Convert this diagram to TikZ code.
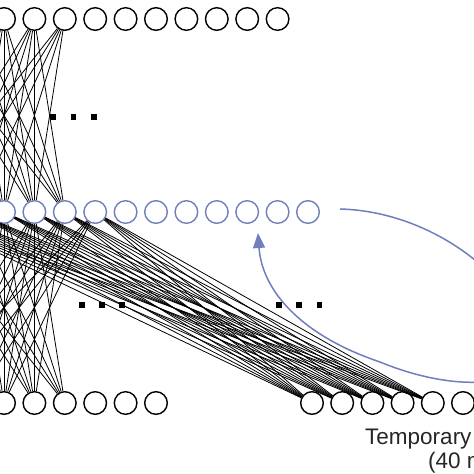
\documentclass[tikz,border=0pt]{standalone}
\usepackage{fontspec}
\setmainfont{Liberation Sans}
\usepackage{xcolor}
\usetikzlibrary{arrows.meta,positioning}
\definecolor{netblue}{RGB}{112,126,190}

\begin{document}
\begin{tikzpicture}[
    x=1pt, y=-1pt,
    unit/.style={circle, draw, line width=1.4pt, minimum size=22.6pt, inner sep=0pt},
    ctxunit/.style={unit, draw=netblue},
    link/.style={line width=0.8pt},
    dot/.style={rectangle, fill=black, minimum size=5.5pt, inner sep=0pt},
    loop/.style={-{Triangle[length=15pt,width=12pt]}, draw=netblue, line width=1.5pt},
    caption/.style={anchor=base west, inner sep=0pt, font=\fontsize{22.5}{27}\selectfont, text=black!85}
]
\useasboundingbox (0,0) rectangle (474,474);
\clip (0,0) rectangle (474,474);

% Top layer
\foreach \i in {-3,...,9}
  \node[unit] (top\i) at ({4+30.4*\i},19) {};

% Hidden layer (blue)
\foreach \i in {-3,...,10}
  \node[ctxunit] (mid\i) at ({4+30.4*\i},212) {};

% Input layer
\foreach \i in {-3,...,5}
  \node[unit] (in\i) at ({4+30.4*\i},403) {};

% Temporary context layer
\foreach \i in {0,...,5}
  \node[unit] (ctx\i) at ({312+30.2*\i},403) {};

% Dots
\node[dot] (d1) at (53,117) {};
\node[dot, right=14.5pt of d1] (d2) {};
\node[dot, right=14.5pt of d2] (d3) {};
\node[dot] (d4) at (82,305) {};
\node[dot, right=14pt of d4] (d5) {};
\node[dot, right=14pt of d5] (d6) {};
\node[dot] (d7) at (279,305) {};
\node[dot, right=14pt of d7] (d8) {};
\node[dot, right=14.5pt of d8] (d9) {};

% Labels
\node[caption] (templabel) at (365,444) {Temporary};
\node[caption] (mslabel) at (428,468) {(40 ms)};

% Connections top -> hidden
\foreach \i in {-3,...,2}
  \foreach \j in {-3,...,2} {
    \pgfmathtruncatemacro\s{\i+\j}
    \ifnum\s<4 \draw[link] (top\i) -- (mid\j); \fi
  }

% Connections hidden -> input
\foreach \i in {-3,...,3}
  \foreach \j in {-3,...,2} {
    \pgfmathtruncatemacro\s{\i+\j}
    \ifnum\s<4 \draw[link] (mid\i) -- (in\j); \fi
  }

% Connections hidden -> temporary context
\foreach \i in {-3,...,3}
  \foreach \k in {0,...,4}
    \draw[link] (mid\i) -- (ctx\k);

% Feedback loop
\coordinate (loopstart) at (340,209);
\coordinate (loopa) at (530,330);
\coordinate (loopb) at (380,362);
\coordinate (looptip) at (258,233);
\draw[loop] (loopstart) .. controls (420,211) and (500,262) .. (loopa)
  .. controls (545,390) and (460,395) .. (loopb)
  .. controls (300,335) and (262,290) .. (looptip);

\end{tikzpicture}
\end{document}
